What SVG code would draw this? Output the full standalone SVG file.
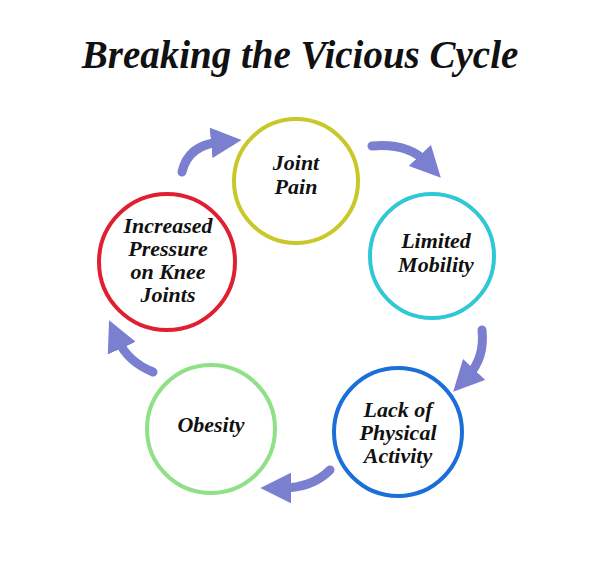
<svg xmlns="http://www.w3.org/2000/svg" width="600" height="563" viewBox="0 0 600 563">
<style>
.t{font-family:"Liberation Serif",serif;font-style:italic;font-weight:bold;fill:#111;text-anchor:middle}
.l{font-size:22px}
.c{fill:none;stroke-width:4}
.a{fill:none;stroke:#7b7fd0;stroke-width:9;stroke-linecap:round;marker-end:url(#h)}
</style>
<defs><marker id="h" markerWidth="3.4" markerHeight="3.4" refX="1" refY="1.7" orient="auto"><path d="M0,0 L3.4,1.7 L0,3.4 Z" fill="#7b7fd0"/></marker></defs>
<rect width="600" height="563" fill="#fff"/>
<text class="t" x="300" y="68" font-size="39">Breaking the Vicious Cycle</text>
<g id="joint"><circle class="c" cx="296" cy="181" r="62" stroke="#c8c828"/><text class="t l" x="296" y="170">Joint</text><text class="t l" x="296" y="194">Pain</text></g>
<g id="mobility"><circle class="c" cx="432" cy="256" r="62" stroke="#30c8d8"/><text class="t l" x="436" y="248">Limited</text><text class="t l" x="436" y="272">Mobility</text></g>
<g id="activity"><circle class="c" cx="398" cy="432" r="64" stroke="#1a70d8"/><text class="t l" x="398" y="417">Lack of</text><text class="t l" x="398" y="440">Physical</text><text class="t l" x="398" y="463">Activity</text></g>
<g id="obesity"><circle class="c" cx="211" cy="429" r="64" stroke="#90e088"/><text class="t l" x="211" y="432">Obesity</text></g>
<g id="pressure"><circle class="c" cx="167" cy="262" r="68" stroke="#e02030"/><text class="t l" x="168" y="233">Increased</text><text class="t l" x="168" y="256">Pressure</text><text class="t l" x="168" y="279">on Knee</text><text class="t l" x="168" y="302">Joints</text></g>
<g id="connectors">
<path class="a" d="M182,172 Q188,145 220,142"/>
<path class="a" d="M372,146 Q408,143 426,162"/>
<path class="a" d="M482,330 Q485,358 468,376"/>
<path class="a" d="M330,470 Q312,488 282,488"/>
<path class="a" d="M153,372 Q128,362 118,340"/>
</g>
</svg>
